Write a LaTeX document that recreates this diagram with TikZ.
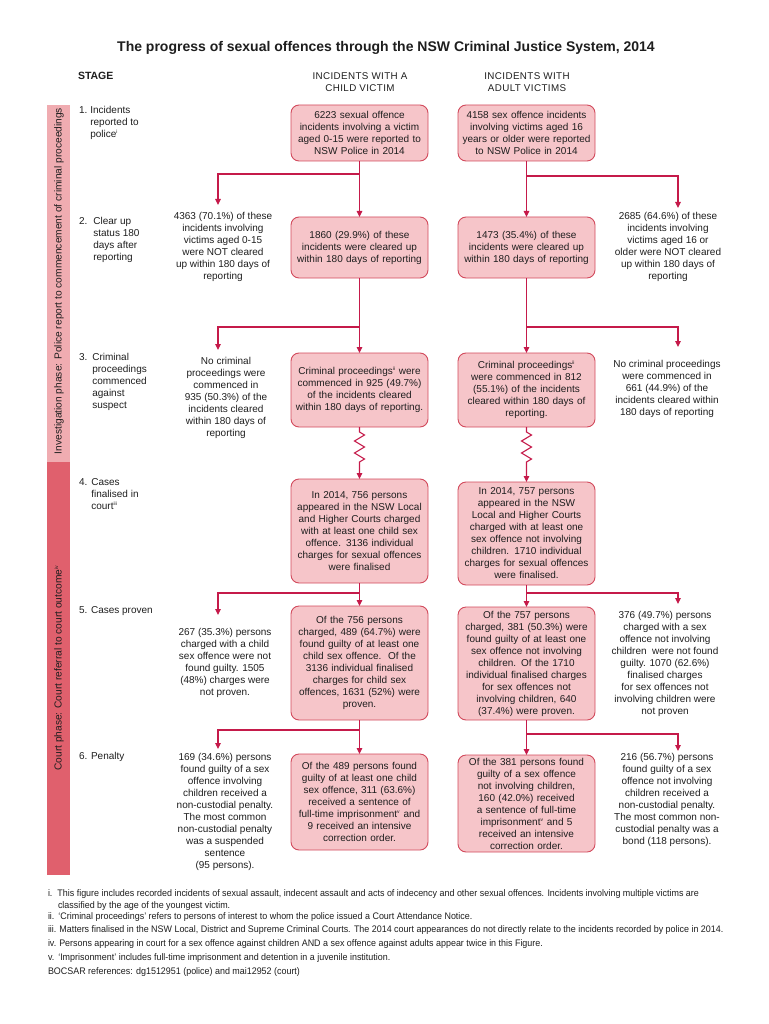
\documentclass[tikz,border=0pt]{standalone}
\usepackage{fontspec}
\setmainfont{Liberation Sans}
\newfontfamily\narrowfont[FakeStretch=0.94]{Liberation Sans}
\newfontfamily\spacedfont[LetterSpace=4]{Liberation Sans}
\usetikzlibrary{arrows.meta}
\definecolor{boxfill}{HTML}{F6C5C9}
\definecolor{boxline}{HTML}{D24A5C}
\definecolor{arrowc}{HTML}{C51A4A}
\definecolor{invbar}{HTML}{F0ACB1}
\definecolor{courtbar}{HTML}{E0606D}
\definecolor{txt}{HTML}{1E1E1E}
\newcommand{\supx}[1]{\textsuperscript{\fontsize{5}{5}\selectfont #1}}
\begin{document}
\begin{tikzpicture}[x=1pt,y=-1pt,
  every node/.style={inner sep=0pt, outer sep=0pt, text=txt},
  fbox/.style={draw=boxline, line width=0.9pt, fill=boxfill, rounded corners=8pt,
    minimum width=137pt, text width=133pt, align=center, font=\fontsize{10}{12}\selectfont},
  ftext/.style={align=center, font=\fontsize{10}{12}\selectfont},
  stagetext/.style={anchor=base west, font=\fontsize{10}{12}\selectfont},
  headtext/.style={align=center, font=\spacedfont\fontsize{9.8}{12.5}\selectfont},
  bartext/.style={rotate=90, font=\fontsize{10.2}{11}\selectfont},
  foot/.style={anchor=base west, font=\narrowfont\fontsize{9.5}{11}\selectfont},
  flow/.style={draw=arrowc, line width=1.1pt},
  arr/.style={flow, -{Triangle[length=6pt,width=5.5pt]}}
]
\useasboundingbox (0,0) rectangle (768,1024);

% title and headers
\node[font=\bfseries\fontsize{14}{16}\selectfont] (title) at (386,48)
  {The progress of sexual offences through the NSW Criminal Justice System, 2014};
\node[anchor=west, font=\bfseries\fontsize{10.5}{12}\selectfont] (stage) at (78,76) {STAGE};
\node[headtext] (hc) at (360,82) {INCIDENTS WITH A\\CHILD VICTIM};
\node[headtext] (ha) at (527,82) {INCIDENTS WITH\\ADULT VICTIMS};

% phase bars
\fill[invbar] (47,105) rectangle (70,462);
\fill[courtbar] (47,462) rectangle (70,875);
\node[bartext] (invlab) at (59,281)
  {Investigation phase: Police report to commencement of criminal proceedings};
\node[bartext] (courtlab) at (59,668)
  {Court phase: Court referral to court outcome\supx{iv}};

% stage labels
\node[stagetext] (s1) at (79,113.5) {\begin{tabular}[t]{@{}l@{\hspace{3pt}}l@{}}1.&Incidents\\&reported to\\&police\supx{i}\end{tabular}};
\node[stagetext] (s2) at (79,224.5) {\begin{tabular}[t]{@{}l@{\hspace{6pt}}l@{}}2.&Clear up\\&status 180\\&days after\\&reporting\end{tabular}};
\node[stagetext] (s3) at (79,360.5) {\begin{tabular}[t]{@{}l@{\hspace{5pt}}l@{}}3.&Criminal\\&proceedings\\&commenced\\&against\\&suspect\end{tabular}};
\node[stagetext] (s4) at (79,485.5) {\begin{tabular}[t]{@{}l@{\hspace{4pt}}l@{}}4.&Cases\\&finalised in\\&court\supx{iii}\end{tabular}};
\node[stagetext] (s5) at (79,613.5) {5. Cases proven};
\node[stagetext] (s6) at (79,759.5) {6. Penalty};

% boxes, child column
\node[fbox, minimum height=56pt] (B1c) at (359.5,133)
  {6223 sexual offence\\incidents involving a victim\\aged 0-15 were reported to\\NSW Police in 2014};
\node[fbox, minimum height=61pt] (B2c) at (359.5,247.5)
  {1860 (29.9\%) of these\\incidents were cleared up\\within 180 days of reporting};
\node[fbox, minimum height=74pt] (B3c) at (359.5,390)
  {Criminal proceedings\supx{ii} were\\commenced in 925 (49.7\%)\\of the incidents cleared\\within 180 days of reporting.};
\node[fbox, minimum height=104pt] (B4c) at (359.5,531)
  {In 2014, 756 persons\\appeared in the NSW Local\\and Higher Courts charged\\with at least one child sex\\offence. 3136 individual\\charges for sexual offences\\were finalised};
\node[fbox, minimum height=114pt] (B5c) at (359.5,663)
  {Of the 756 persons\\charged, 489 (64.7\%) were\\found guilty of at least one\\child sex offence.\ \ Of the\\3136 individual finalised\\charges for child sex\\offences, 1631 (52\%) were\\proven.};
\node[fbox, minimum height=96pt] (B6c) at (359.5,802)
  {Of the 489 persons found\\guilty of at least one child\\sex offence, 311 (63.6\%)\\received a sentence of\\full-time imprisonment\supx{v} and\\9 received an intensive\\correction order.};

% boxes, adult column
\node[fbox, minimum height=56pt] (B1a) at (526.5,133)
  {4158 sex offence incidents\\involving victims aged 16\\years or older were reported\\to NSW Police in 2014};
\node[fbox, minimum height=61pt] (B2a) at (526.5,247.5)
  {1473 (35.4\%) of these\\incidents were cleared up\\within 180 days of reporting};
\node[fbox, minimum height=74pt] (B3a) at (526.5,390)
  {Criminal proceedings\supx{ii}\\were commenced in 812\\(55.1\%) of the incidents\\cleared within 180 days of\\reporting.};
\node[fbox, minimum height=103pt] (B4a) at (526.5,533.5)
  {In 2014, 757 persons\\appeared in the NSW\\Local and Higher Courts\\charged with at least one\\sex offence not involving\\children. 1710 individual\\charges for sexual offences\\were finalised.};
\node[fbox, minimum height=113pt] (B5a) at (526.5,663.5)
  {Of the 757 persons\\charged, 381 (50.3\%) were\\found guilty of at least one\\sex offence not involving\\children. Of the 1710\\individual finalised charges\\for sex offences not\\involving children, 640\\(37.4\%) were proven.};
\node[fbox, minimum height=97pt] (B6a) at (526.5,803.5)
  {Of the 381 persons found\\guilty of a sex offence\\not involving children,\\160 (42.0\%) received\\a sentence of full-time\\imprisonment\supx{v} and 5\\received an intensive\\correction order.};

% free texts, left
\node[ftext] (T2L) at (223,247) {4363 (70.1\%) of these\\incidents involving\\victims aged 0-15\\were NOT cleared\\up within 180 days of\\reporting};
\node[ftext] (T3L) at (226,397.5) {No criminal\\proceedings were\\commenced in\\935 (50.3\%) of the\\incidents cleared\\within 180 days of\\reporting};
\node[ftext] (T5L) at (225,663) {267 (35.3\%) persons\\charged with a child\\sex offence were not\\found guilty. 1505\\(48\%) charges were\\not proven.};
\node[ftext] (T6L) at (225,811.5) {169 (34.6\%) persons\\found guilty of a sex\\offence involving\\children received a\\non-custodial penalty.\\The most common\\non-custodial penalty\\was a suspended\\sentence\\(95 persons).};

% free texts, right
\node[ftext] (T2R) at (668,247) {2685 (64.6\%) of these\\incidents involving\\victims aged 16 or\\older were NOT cleared\\up within 180 days of\\reporting};
\node[ftext] (T3R) at (667,389) {No criminal proceedings\\were commenced in\\661 (44.9\%) of the\\incidents cleared within\\180 days of reporting};
\node[ftext] (T5R) at (665,663.5) {376 (49.7\%) persons\\charged with a sex\\offence not involving\\children\ \ were not found\\guilty. 1070 (62.6\%)\\finalised charges\\for sex offences not\\involving children were\\not proven};
\node[ftext] (T6R) at (667,799.5) {216 (56.7\%) persons\\found guilty of a sex\\offence not involving\\children received a\\non-custodial penalty.\\The most common non-\\custodial penalty was a\\bond (118 persons).};

% junction and arrow-end coordinates
\coordinate (j1c) at (359.5,174); \coordinate (e1L) at (218,205);
\coordinate (j1a) at (526.5,176); \coordinate (e1R) at (678,208);
\coordinate (j2c) at (359.5,327); \coordinate (e2L) at (218,350);
\coordinate (j2a) at (526.5,327); \coordinate (e2R) at (678,347);
\coordinate (j4c) at (359.5,593); \coordinate (e4L) at (218,615);
\coordinate (j4a) at (526.5,593); \coordinate (e4R) at (678,604);
\coordinate (j5c) at (359.5,730); \coordinate (e5L) at (218,749);
\coordinate (j5a) at (526.5,734); \coordinate (e5R) at (678,751);

% connectors
\draw[arr] (B1c.south) -- (B2c.north);
\draw[arr] (j1c) -| (e1L);
\draw[arr] (B1a.south) -- (B2a.north);
\draw[arr] (j1a) -| (e1R);
\draw[arr] (B2c.south) -- (B3c.north);
\draw[arr] (j2c) -| (e2L);
\draw[arr] (B2a.south) -- (B3a.north);
\draw[arr] (j2a) -| (e2R);
\draw[arr] (B3c.south) -- ++(0,5) -- ++(5,3) -- ++(-10,6) -- ++(10,6) -- ++(-10,6) -- ++(10,6) -- ++(-5,3) -- (B4c.north);
\draw[arr] (B3a.south) -- ++(0,5) -- ++(5,3) -- ++(-10,6) -- ++(10,6) -- ++(-10,6) -- ++(10,6) -- ++(-5,3) -- (B4a.north);
\draw[arr] (B4c.south) -- (B5c.north);
\draw[arr] (j4c) -| (e4L);
\draw[arr] (B4a.south) -- (B5a.north);
\draw[arr] (j4a) -| (e4R);
\draw[arr] (B5c.south) -- (B6c.north);
\draw[arr] (j5c) -| (e5L);
\draw[arr] (B5a.south) -- (B6a.north);
\draw[arr] (j5a) -| (e5R);

% footnotes
\node[foot] (f1) at (48,896) {i.\hspace{5pt}This figure includes recorded incidents of sexual assault, indecent assault and acts of indecency and other sexual offences. Incidents involving multiple victims are};
\node[foot] (f1b) at (58,908) {classified by the age of the youngest victim.};
\node[foot] (f2) at (48,919.5) {ii.\hspace{4pt}‘Criminal proceedings’ refers to persons of interest to whom the police issued a Court Attendance Notice.};
\node[foot] (f3) at (48,932.5) {iii.\hspace{3pt}Matters finalised in the NSW Local, District and Supreme Criminal Courts. The 2014 court appearances do not directly relate to the incidents recorded by police in 2014.};
\node[foot] (f4) at (48,946) {iv.\hspace{3pt}Persons appearing in court for a sex offence against children AND a sex offence against adults appear twice in this Figure.};
\node[foot] (f5) at (48,960) {v.\hspace{4pt}‘Imprisonment’ includes full-time imprisonment and detention in a juvenile institution.};
\node[foot] (f6) at (48,974) {BOCSAR references: dg1512951 (police) and mai12952 (court)};
\end{tikzpicture}
\end{document}
